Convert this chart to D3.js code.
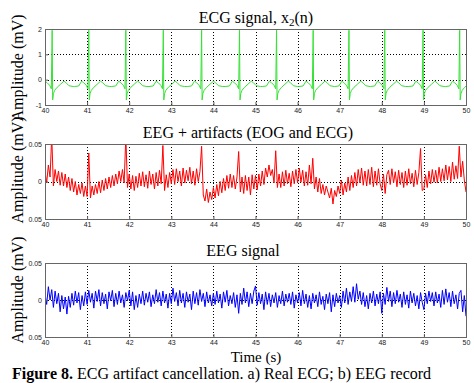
<!DOCTYPE html>
<html>
<head>
<meta charset="utf-8">
<script src="https://cdn.jsdelivr.net/npm/d3@7"></script>
<style>
  body { margin: 0; background: #fff; }
  svg { display: block; }
</style>
</head>
<body>
<div class="chart"></div>
<script>
(function(){

  var width = 474, height = 383
  var serif = 'Liberation Serif'

  // time axis
  var xTicks = [40, 41, 42, 43, 44, 45, 46, 47, 48, 49, 50]

  // ecg: r peak times (s) and one beat shape (offset s, value mV)
  var ecgPeaks = [40.17, 41.04, 41.92, 42.81, 43.72, 44.62, 45.50, 46.37, 47.22, 48.07, 48.98, 49.85]
  var beatOffsets = [-0.34, -0.24, -0.17, -0.12, -0.06, -0.02, 0, 0.012, 0.03, 0.06, 0.12, 0.2, 0.28, 0.33, 0.4, 0.5]
  var beatValues  = [-0.27, -0.25, -0.06, -0.12, -0.22, -0.36, 1.95, -0.8, -0.55, -0.42, -0.3, -0.18, -0.06, -0.12, -0.24, -0.27]
  var ecgYTicks = [2, 1, 0, -1]

  // eeg traces, samples every 0.04 s from 40 to 50, values in 0.001 mV
  var eegArtifact = [
    14, -2, 22, 6, 60, -6, 16, 0, 14, -5, 12, -6, 10, -8, 6, -12, 4, -14, 0, -18, -4, -16, -2, -20, -6,
    -20, 38, -22, -6, -18, -4, -16, 0, -15, 2, -12, 4, -10, 6, -8, 8, -6, 10, -3, 14, 0, 16, -2, 60, -8,
    10, -10, 8, -12, 7, -8, 11, -6, 13, -7, 9, -9, 14, -4, 10, -10, 12, -6, 15, -3, 48, -12, 9, -8, 12,
    -3, 16, -4, 17, 0, 14, -6, 18, -2, 15, 1, 19, -3, 14, -5, 17, 0, 13, 47, -18, -26, -10, -28, -14, -24,
    -8, -22, -4, -19, 0, -15, 4, -12, 8, -9, 10, -8, 8, -10, 6, 40, -14, 6, -16, 8, -12, 6, -18, 9, -10,
    8, -11, 10, -6, 14, -4, 18, 6, 22, 8, 16, -2, 41, -8, 10, -8, 13, -6, 15, -3, 11, -7, 14, -3, 16,
    -2, 18, -1, 15, -6, 13, -5, 22, -3, 31, -10, 6, -14, 4, -16, -4, -18, -6, -14, -22, -9, -30, -12, -20, -6,
    -16, 2, -18, -2, -14, 6, -12, 8, -8, 12, -6, 16, -2, 18, -5, 14, -6, 16, -4, 19, -7, 14, -5, 17, -3,
    -12, 10, -16, 9, 15, -4, 17, -2, 13, -7, 15, -4, 12, -8, 14, -5, 17, -3, 11, -7, 15, -4, 12, 44, -12,
    -10, 9, -8, 14, -3, 16, -1, 15, -2, 19, 0, 17, 1, 22, 2, 20, 0, 26, 3, 21, 4, 47, 6, 27, 2, -14
  ]
  var eegClean = [
    8, -6, 18, 0, 14, -10, 12, -5, 9, -16, 6, -12, 4, -19, 5, -10, 9, -7, 12, -4, 10, -13, 6, -8, 11,
    -6, 13, -3, 9, -11, 12, -2, 14, -8, 10, -5, 8, -12, 11, -1, 13, -9, 9, -6, 12, -4, 7, -10, 10, -1,
    13, -8, 11, -13, 6, -10, 8, -5, 12, -7, 9, -3, 11, -9, 7, -5, 14, -3, 10, -8, 12, -4, 8, -11, 9,
    -5, 16, -2, 10, -8, 13, -4, 9, -10, 11, -3, 8, -13, 12, -5, 10, -7, 14, -2, 9, -9, 11, -4, 7, -8,
    9, -6, 12, -4, 8, -11, 11, -3, 13, -8, 6, -5, 10, -10, 7, -18, 9, -6, 16, -4, 11, -9, 9, -5, 12,
    19, -7, 10, -5, 8, -13, 11, -6, 9, -9, 7, -4, 10, -10, 6, -5, 12, -8, 8, -3, 9, -6, 11, -11, 7,
    -4, 10, -8, 13, -5, 8, -10, 6, -12, 9, -4, 7, -9, 11, -6, 5, -13, 8, -5, 10, -16, 7, -9, 9, -4,
    6, -10, 12, -4, 16, -6, 11, -2, 18, -3, 22, 1, 12, -6, 10, -9, 6, -12, 9, -4, 12, -8, 8, -5, 11,
    -18, 9, -6, 17, -2, 12, -9, 10, -5, 13, -3, 8, -10, 11, -6, 7, -11, 12, -4, 9, -8, 6, -12, 10, -3,
    -13, 9, -5, 12, -2, 10, -8, 11, -4, 8, -10, 13, -6, 15, -3, 10, -9, 12, -5, 7, -12, 9, 13, -16, 6, -22
  ]
  var eegYTicks = [50, 0, -50]
  var eegYLabels = ['0.05', '0', '0.05']

  var titles = ['ECG signal,  x', 'EEG + artifacts (EOG and ECG)', 'EEG signal']

  // build ecg points from beats
  var ecgData = []
  ecgPeaks.forEach(function(p){
    beatOffsets.forEach(function(o, i){
      ecgData.push({t: p + o, v: beatValues[i]})
    })
  })

  function sampled(values){
    var step = 10 / (values.length - 1)
    return values.map(function(v, i){ return {t: 40 + i * step, v: v} })
  }

  var panels = [
    {top: 29, bottom: 105, domain: [-1, 2], ticks: ecgYTicks, labels: ecgYTicks.map(String), data: ecgData, color: '#36e236', title: titles[0], titleY: 23, titleX: 256, labelY: 68},
    {top: 144, bottom: 219, domain: [-50, 50], ticks: eegYTicks, labels: eegYLabels, data: sampled(eegArtifact), color: '#ff0000', title: titles[1], titleY: 138, titleX: 248, labelY: 170},
    {top: 263, bottom: 337, domain: [-50, 50], ticks: eegYTicks, labels: eegYLabels, data: sampled(eegClean), color: '#0000ff', title: titles[2], titleY: 256, titleX: 243, labelY: 290}
  ]

  var left = 45, right = 466

  var svg = d3.select('.chart').append('svg')
    .attr('width', width)
    .attr('height', height)

  var x = d3.scaleLinear().domain([40, 50]).range([left, right])

  panels.forEach(function(p, k){
    var y = d3.scaleLinear().domain(p.domain).range([p.bottom, p.top])
    var g = svg.append('g')

    svg.append('clipPath')
      .attr('id', 'clip' + k)
      .append('rect')
      .attr('x', left).attr('y', p.top)
      .attr('width', right - left).attr('height', p.bottom - p.top)

    // dotted grid
    g.selectAll('.vgrid')
      .data(xTicks.slice(1, -1))
      .enter().append('line')
      .attr('x1', function(d){ return Math.round(x(d)) + 0.5 })
      .attr('x2', function(d){ return Math.round(x(d)) + 0.5 })
      .attr('y1', p.top).attr('y2', p.bottom)
      .style('stroke', '#000')
      .style('stroke-width', 1)
      .style('stroke-dasharray', '1,2')

    g.selectAll('.hgrid')
      .data(p.ticks.filter(function(d){ return d > p.domain[0] && d < p.domain[1] }))
      .enter().append('line')
      .attr('x1', left).attr('x2', right)
      .attr('y1', function(d){ return Math.round(y(d)) + 0.5 })
      .attr('y2', function(d){ return Math.round(y(d)) + 0.5 })
      .style('stroke', '#000')
      .style('stroke-width', 1)
      .style('stroke-dasharray', '1,2')

    var line = d3.line()
      .x(function(d){ return x(d.t) })
      .y(function(d){ return y(d.v) })

    g.append('path')
      .datum(p.data)
      .attr('clip-path', 'url(#clip' + k + ')')
      .attr('d', line)
      .style('fill', 'none')
      .style('stroke', p.color)
      .style('stroke-width', 1)

    // axes
    var xAxis = d3.axisBottom(x).tickValues(xTicks).tickSize(-3).tickPadding(3).tickFormat(d3.format('d'))
    var xg = g.append('g')
      .attr('transform', 'translate(0,' + p.bottom + ')')
      .attr('font-family', 'Liberation Sans')
      .attr('font-size', 7)
      .call(xAxis)
    xg.attr('font-family', 'Liberation Sans').attr('font-size', 7)
    xg.select('.domain').remove()
    xg.selectAll('line').style('stroke', '#555')
    xg.selectAll('text').style('fill', '#222')

    var yAxis = d3.axisLeft(y).tickValues(p.ticks).tickSize(-3).tickPadding(3)
      .tickFormat(function(d, i){ return p.labels[i] })
    var yg = g.append('g')
      .attr('transform', 'translate(' + left + ',0)')
      .call(yAxis)
    yg.attr('font-family', 'Liberation Sans').attr('font-size', 7)
    yg.select('.domain').remove()
    yg.selectAll('line').style('stroke', '#555')
    yg.selectAll('text').style('fill', '#222')

    g.append('rect')
      .attr('x', left + 0.5).attr('y', p.top + 0.5)
      .attr('width', right - left).attr('height', p.bottom - p.top)
      .style('fill', 'none')
      .style('stroke', '#666')
      .style('stroke-width', 1)

    // title
    var t = g.append('text')
      .attr('x', p.titleX)
      .attr('y', p.titleY)
      .attr('text-anchor', 'middle')
      .attr('font-family', serif)
      .attr('font-size', 16)
      .text(p.title)
    if (k === 0) {
      t.append('tspan').attr('dy', 3).attr('font-size', 11).text('2')
      t.append('tspan').attr('dy', -3).text('(n)')
    }

    svg.append('text')
      .attr('transform', 'translate(23,' + p.labelY + ') rotate(-90)')
      .attr('text-anchor', 'middle')
      .attr('font-family', serif)
      .attr('font-size', 16)
      .text('Amplitude (mV)')
  })

  svg.append('text')
    .attr('x', 256)
    .attr('y', 362)
    .attr('text-anchor', 'middle')
    .attr('font-family', serif)
    .attr('font-size', 15)
    .text('Time (s)')

  var cap = svg.append('text')
    .attr('x', 12)
    .attr('y', 379)
    .attr('font-family', serif)
    .attr('font-size', 16)
  cap.append('tspan').attr('font-weight', 'bold').text('Figure 8.')
  cap.append('tspan').text(' ECG artifact cancellation. a) Real ECG; b) EEG record')

})()
</script>
</body>
</html>
